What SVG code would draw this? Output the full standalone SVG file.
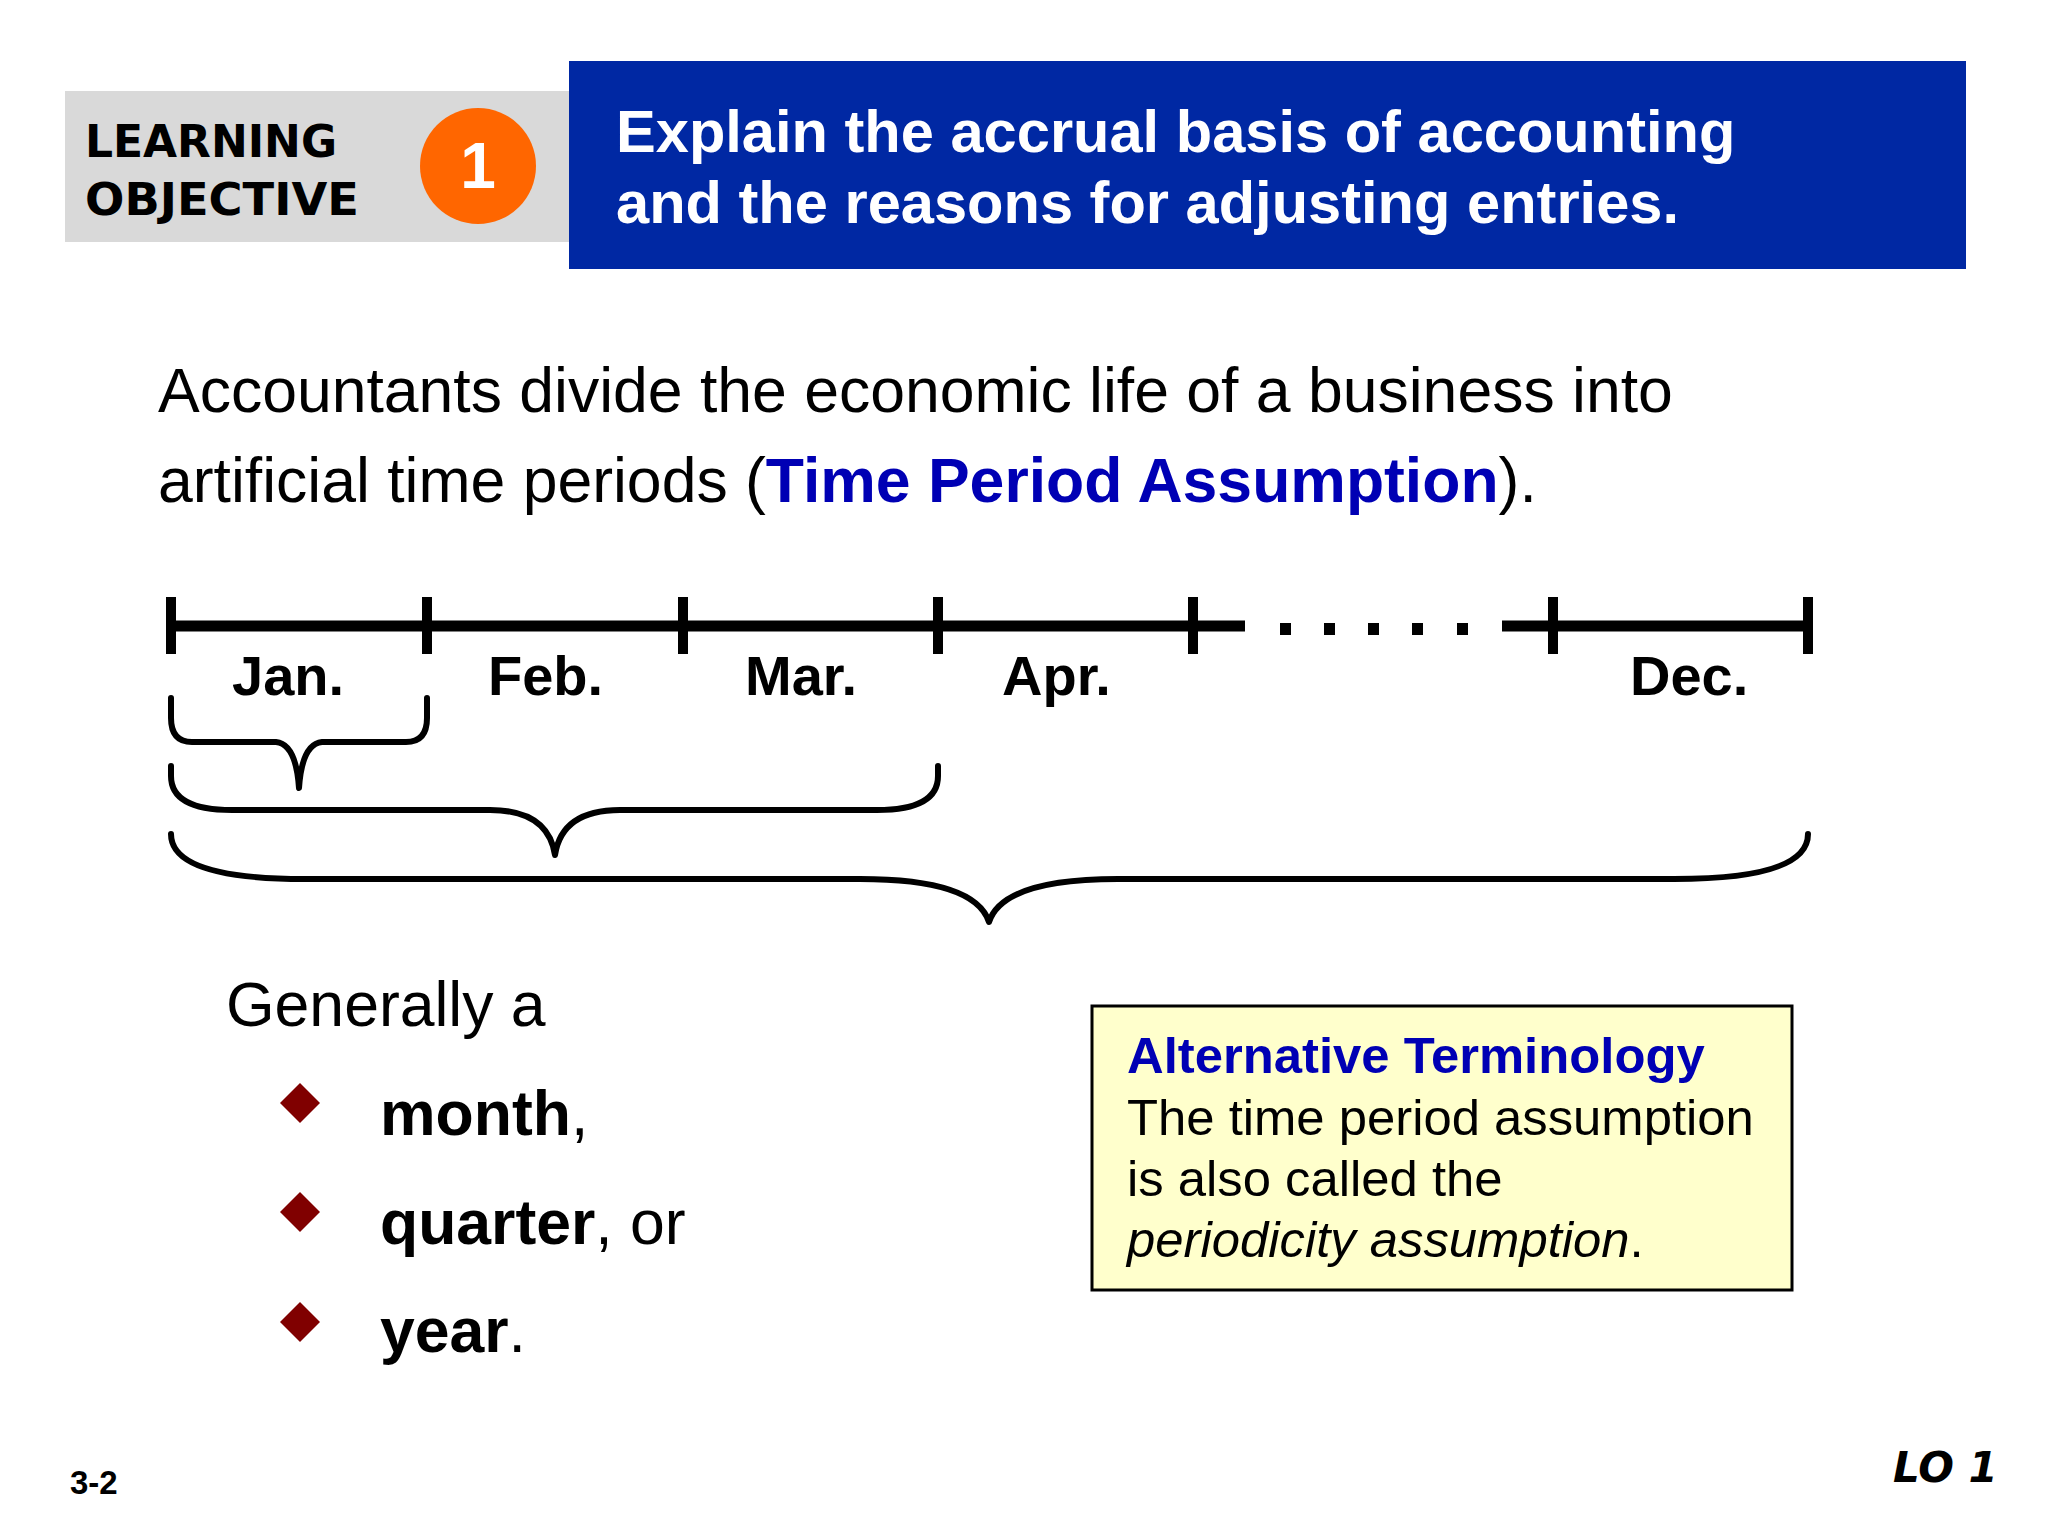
<svg xmlns="http://www.w3.org/2000/svg" width="2048" height="1536" viewBox="0 0 2048 1536">
<style>
.sans{font-family:"Liberation Sans",Arial,sans-serif}
.b{font-weight:bold}
.dv{font-family:"DejaVu Sans",Verdana,sans-serif;font-weight:bold}
.blue{fill:#0000B4}
.brace{fill:none;stroke:#000;stroke-width:6;stroke-linecap:round;stroke-linejoin:round}
.tick{stroke:#000;stroke-width:10}
.axis{stroke:#000;stroke-width:11}
.month{font-family:"Liberation Sans",Arial,sans-serif;font-weight:bold;font-size:56px;fill:#000}
.body{font-family:"Liberation Sans",Arial,sans-serif;font-size:62.5px;fill:#000}
.diamond{fill:#800000}
</style>
<rect width="2048" height="1536" fill="#fff"/>

<g id="header">
  <rect x="65" y="91" width="504" height="151" fill="#D9D9D9"/>
  <text class="dv" x="85" y="157" font-size="45" fill="#000" textLength="252" lengthAdjust="spacingAndGlyphs">LEARNING</text>
  <text class="dv" x="85" y="215" font-size="45" fill="#000" textLength="274" lengthAdjust="spacingAndGlyphs">OBJECTIVE</text>
  <circle cx="478" cy="166" r="58" fill="#FF6600"/>
  <text class="sans b" x="478" y="188" font-size="64" fill="#fff" text-anchor="middle">1</text>
  <rect x="569" y="61" width="1397" height="208" fill="#0028A3"/>
  <text class="sans b" x="616" y="152" font-size="59.6" fill="#fff">Explain the accrual basis of accounting</text>
  <text class="sans b" x="616" y="223" font-size="59.6" fill="#fff">and the reasons for adjusting entries.</text>
</g>

<g id="intro">
  <text class="body" x="158" y="412">Accountants divide the economic life of a business into</text>
  <text class="body" x="158" y="502">artificial time periods (<tspan class="b blue">Time Period Assumption</tspan>).</text>
</g>

<g id="timeline">
  <line class="axis" x1="171" y1="626" x2="1245" y2="626"/>
  <line class="axis" x1="1502" y1="626" x2="1808" y2="626"/>
  <line class="tick" x1="171" y1="597" x2="171" y2="654"/>
  <line class="tick" x1="427" y1="597" x2="427" y2="654"/>
  <line class="tick" x1="683" y1="597" x2="683" y2="654"/>
  <line class="tick" x1="938" y1="597" x2="938" y2="654"/>
  <line class="tick" x1="1193" y1="597" x2="1193" y2="654"/>
  <line class="tick" x1="1553" y1="597" x2="1553" y2="654"/>
  <line class="tick" x1="1808" y1="597" x2="1808" y2="654"/>
  <rect x="1280" y="623" width="11" height="12"/>
  <rect x="1324" y="623" width="11" height="12"/>
  <rect x="1368" y="623" width="11" height="12"/>
  <rect x="1412" y="623" width="11" height="12"/>
  <rect x="1457" y="623" width="11" height="12"/>
  <text class="month" x="232" y="695">Jan.</text>
  <text class="month" x="488" y="695">Feb.</text>
  <text class="month" x="745" y="695">Mar.</text>
  <text class="month" x="1002" y="695">Apr.</text>
  <text class="month" x="1630" y="695">Dec.</text>
</g>

<g id="connectors">
  <path class="brace" d="M171,698 L171,718 Q171,742 192,742 L276,742 Q296,744 299,788 Q302,744 322,742 L406,742 Q427,742 427,718 L427,698"/>
  <path class="brace" d="M171,766 L171,776 Q171,810 232,810 L490,810 Q548,810 555,855 Q562,810 620,810 L877,810 Q938,810 938,776 L938,766"/>
  <path class="brace" d="M171,834 Q171,879 305,879 L860,879 Q975,879 989,922 Q1003,879 1118,879 L1674,879 Q1808,879 1808,834"/>
</g>

<g id="periods">
  <text class="body" x="226" y="1026">Generally a</text>
  <polygon class="diamond" points="300,1083 320,1103 300,1123 280,1103"/>
  <polygon class="diamond" points="300,1192 320,1212 300,1232 280,1212"/>
  <polygon class="diamond" points="300,1302 320,1322 300,1342 280,1322"/>
  <text class="body" x="380" y="1135"><tspan class="b">month</tspan>,</text>
  <text class="body" x="380" y="1244"><tspan class="b">quarter</tspan>, or</text>
  <text class="body" x="380" y="1352"><tspan class="b">year</tspan>.</text>
</g>

<g id="alt-terminology">
  <rect x="1092" y="1006" width="700" height="284" fill="#FFFFCC" stroke="#000" stroke-width="3"/>
  <text class="sans b blue" x="1127" y="1073" font-size="50.8">Alternative Terminology</text>
  <text class="sans" x="1127" y="1135" font-size="50.8" fill="#000">The time period assumption</text>
  <text class="sans" x="1127" y="1196" font-size="50.8" fill="#000">is also called the</text>
  <text class="sans" x="1127" y="1257" font-size="50.8" fill="#000"><tspan font-style="italic">periodicity assumption</tspan>.</text>
</g>

<g id="footer">
  <text class="sans b" x="70" y="1494" font-size="33" fill="#000">3-2</text>
  <text class="dv" x="1893" y="1482" font-size="42" font-style="italic" fill="#000">LO 1</text>
</g>
</svg>
